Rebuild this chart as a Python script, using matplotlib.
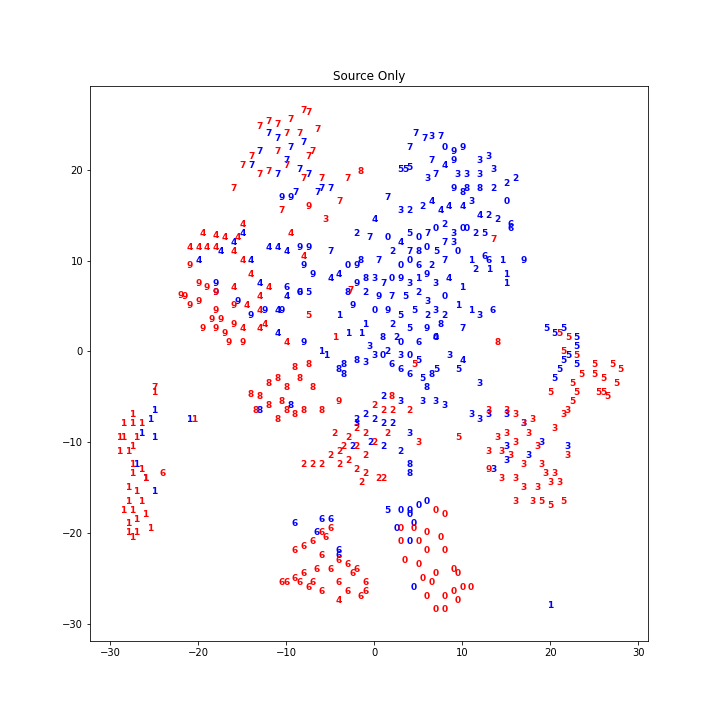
import matplotlib
matplotlib.use("Agg")
import matplotlib.pyplot as plt

red_top7 = [(-8, 26.5, 7), (-7.5, 26.3, 7), (-9.5, 25.5, 7), (-11, 25, 7), (-12, 25.3, 7), (-13, 24.8, 7),
            (-10, 24, 7), (-8.5, 24, 7), (-6.5, 24.5, 7), (-7, 22, 7), (-7.5, 21.5, 7), (-11, 22, 7),
            (-14, 21.5, 7), (-15, 20.5, 7), (-13, 19.5, 7), (-10, 20.5, 7), (-12, 19.8, 7), (-8, 19, 7),
            (-6, 19, 7), (-3, 19, 7), (-16, 18, 7), (-10.5, 15.5, 7), (-4, 16.5, 7), (-1.5, 19.8, 8),
            (-7.5, 16, 9), (-5.5, 14.5, 3)]
red_left49 = [(-19.5, 13, 4), (-18, 12.8, 4), (-17, 12.5, 4), (-15.5, 12.5, 4), (-15, 14, 4), (-21, 11.5, 4),
              (-20, 11.5, 4), (-19, 11.5, 4), (-18, 11.5, 4), (-16, 11, 4), (-15, 10, 4), (-14, 8.5, 4),
              (-12, 7, 4), (-13, 6, 4), (-16, 7, 4), (-14.5, 5, 4), (-13, 4.5, 4), (-12.5, 3, 4), (-15, 2.5, 4),
              (-13, 2.5, 4), (-10, 1, 4), (-9.5, 13, 4), (-8, 10.5, 4),
              (-21, 9.5, 9), (-20, 7.5, 9), (-19, 7, 9), (-18, 6.5, 9), (-21.5, 6, 9), (-20, 5.5, 9),
              (-22, 6.2, 9), (-21, 5, 9), (-18, 4.5, 9), (-16, 5, 9), (-17.5, 3.5, 9), (-18.5, 3.5, 9),
              (-19.5, 2.5, 9), (-16, 3, 9), (-17, 2, 9), (-16.5, 1, 9), (-18, 2.5, 9), (-15, 1, 9),
              (-7.5, 4, 5), (-4.5, 1.5, 1), (-2.7, 6.7, 7)]
red_mid8 = [(-9, -1.8, 8), (-7.5, -1.5, 8), (-11, -3, 8), (-8.5, -3, 8), (-12, -3.5, 8), (-10, -4, 8),
            (-7, -4, 8), (-14, -4.8, 8), (-13, -5, 8), (-10.5, -5.5, 8), (-12, -6, 8), (-10, -6.5, 8),
            (-13.5, -6.5, 8), (-11, -7.5, 8), (-9, -7, 8), (-8, -6.5, 8), (-6, -6.5, 8), (-4.1, -5.5, 9)]
red_mid2 = [(0, -6, 2), (1, -6.5, 2), (2, -6.5, 2), (4, -6.5, 2), (-2, -8.5, 2), (-1, -9, 2), (1.5, -9, 2),
            (-3, -9.5, 2), (-4.5, -9, 2), (-2, -10.5, 2), (0, -10, 2), (-3.5, -10.5, 2), (-4, -11, 2),
            (-5, -11.5, 2), (-1, -11.5, 2), (-3, -12, 2), (-7, -12.5, 2), (-6, -12.5, 2), (-8, -12.5, 2),
            (-4, -12.5, 2), (-2, -13, 2), (-1, -13.5, 2), (0.5, -14, 2), (-1.5, -14.5, 2), (1, -14, 2),
            (5, -10, 3), (9.5, -9.5, 5), (13, -13, 9), (2, -5, 8), (4.5, -1.5, 5), (14, 1, 8), (13.5, 12.3, 7)]
red_right3 = [(13, -6.5, 3), (15, -6.5, 3), (16, -7, 3), (18, -7.5, 3), (17, -8, 3), (15, -9, 3),
              (17.5, -9, 3), (20.5, -8.5, 3), (14, -9.5, 3), (16, -10, 3), (18.5, -10.5, 3), (13, -11, 3),
              (14.5, -11, 3), (15.5, -11.5, 3), (17, -12.5, 3), (19, -12.5, 3), (22, -11.5, 3), (14.5, -14, 3),
              (16, -14, 3), (19.5, -13.5, 3), (20.5, -13.5, 3), (21, -14.5, 3), (17, -15, 3), (18.5, -15, 3),
              (20, -14.5, 3), (16, -16.5, 3), (18, -16.5, 3), (19, -16.5, 5), (20, -17, 5), (21.5, -16.5, 5)]
red_right5 = [(21, 2, 5), (22, 1.5, 5), (21.5, 0, 5), (23, -0.5, 5), (25, -1.5, 5), (27, -1.5, 5), (28, -2, 5),
              (25, -2.5, 5), (23.5, -2.5, 5), (26, -3, 5), (22.5, -3.5, 5), (27.5, -3.5, 5), (25.5, -4.5, 5),
              (26, -4.5, 5), (23, -4.5, 5), (26.5, -5, 5), (20, -4.5, 5), (22.5, -5.5, 5), (22, -6.5, 3),
              (21.5, -7, 3)]
red_left1 = [(-25, -4, 7), (-25, -4.5, 1), (-27.5, -7, 1), (-28.5, -8, 1), (-27.5, -8, 1), (-26.5, -8, 1),
             (-27, -9.5, 1), (-28.5, -9.5, 1), (-29, -9.5, 1), (-27.5, -10.5, 1), (-29, -11, 1), (-28, -11, 1),
             (-27.5, -12.5, 1), (-26.5, -13, 1), (-26, -14, 1), (-27.5, -13.5, 1), (-28, -15, 1), (-27, -15.5, 1),
             (-28, -16.5, 1), (-26.5, -16.5, 1), (-28.5, -17.5, 1), (-27.5, -17.5, 1), (-26, -18, 1),
             (-27, -18.5, 1), (-28, -19, 1), (-25.5, -19.5, 1), (-27, -20, 1), (-28, -20, 1), (-27.5, -20.5, 1),
             (-20.5, -7.5, 1), (-24, -13.5, 6)]
red_bottom6 = [(-5, -19.5, 6), (-6, -20, 6), (-5.5, -20.5, 6), (-8, -21.5, 6), (-9, -22, 6), (-7, -21, 6),
               (-6, -22.5, 6), (-4, -23, 6), (-3, -23.5, 6), (-2, -24, 6), (-2.5, -24.5, 6), (-5, -24, 6),
               (-6.5, -24, 6), (-8, -24.5, 6), (-9, -25, 6), (-7, -25.5, 6), (-4, -25.5, 6), (-1, -25.5, 6),
               (-10.5, -25.5, 6), (-10, -25.5, 6), (-8.5, -25.5, 6), (-6, -26.5, 6), (-3, -26.5, 6),
               (-1.5, -27, 6), (-1, -26.5, 6), (-7.5, -26, 6), (-4, -27.5, 4)]
red_bottom0 = [(7, -17.5, 0), (8, -18, 0), (3, -19.5, 0), (4.5, -19.5, 0), (6, -20, 0), (7.5, -20.5, 0),
               (3, -21, 0), (5, -21, 0), (6, -22, 0), (8, -22, 0), (3.5, -23, 0), (5, -23.5, 0), (9, -24, 0),
               (9.5, -24.5, 0), (7, -24.5, 0), (5.5, -25, 0), (6.5, -25.5, 0), (10, -26, 0), (9, -26.5, 0),
               (11, -26, 0), (8, -27, 0), (9.5, -27.5, 0), (7, -28.5, 0), (8, -28.5, 0), (6, -27, 0)]

blue_left = [(-12, 24, 7), (-11, 23.5, 7), (-9.5, 22.5, 7), (-8, 23, 7), (-13, 22, 7), (-14, 20.5, 7),
             (-10, 21, 7), (-8.5, 20, 7), (-7.5, 19.5, 7), (-6, 18, 7), (-9, 17.5, 7), (-6.5, 17.5, 7),
             (-5, 18, 7), (-11, 19.5, 7), (-10.5, 17, 9), (-9.5, 17, 9),
             (-20, 10, 4), (-17.5, 11, 4), (-16, 12, 4), (-15, 13, 4), (-12, 11.5, 4), (-11, 11.5, 4),
             (-10, 11, 4), (-14, 10, 4), (-13, 7.5, 4), (-10, 6, 4), (-11, 4.5, 4), (-11, 2, 4),
             (-18, 7.5, 9), (-18, 6.5, 9), (-15.5, 5.5, 9), (-14, 4, 9), (-12.5, 4.5, 9), (-10.5, 4.5, 9),
             (-8.5, 11.5, 9), (-7.5, 11.5, 9), (-8, 9.5, 9), (-7, 8.5, 9), (-8, 1, 9), (-8.5, 6.5, 6),
             (-10, 7, 6), (-7.5, 6.5, 5), (-5, 11, 7), (-8.5, 6.5, 0), (-4, 4, 1), (-6, 0, 1),
             (-5.5, -0.5, 1), (-25, -6.5, 1), (-25.5, -7.5, 1), (-26.5, -9, 1), (-25, -9.5, 1), (-21, -7.5, 1),
             (-27, -12.5, 1), (-26, -14, 1), (-25, -15.5, 1), (-13, -6.5, 8), (-9.5, -6, 8), (-3.5, -2.5, 8),
             (-4, -2, 8)]
blue_main = [(4.7, 24, 7), (5.7, 23.5, 7), (6.5, 23.7, 3), (7.5, 23.7, 7), (4, 22.5, 7), (6.5, 21, 7),
             (8, 22.5, 0), (9, 22, 9), (10, 22.5, 9), (9, 21, 9), (8, 20.5, 4), (7, 19.5, 7),
             (12, 21, 3), (13, 21.5, 3), (13.5, 20, 3), (12, 19.5, 3), (16, 19, 2), (15, 18.5, 2),
             (13.5, 18, 2), (12, 18, 8), (15, 16.5, 0), (15.5, 14, 6), (15.5, 13.5, 6), (3, 20, 5),
             (3.5, 20, 5), (4, 20.3, 5), (6, 19, 3), (9, 18, 9), (10, 17.5, 8), (9.5, 19.5, 3), (10.5, 19.5, 3),
             (10.5, 18, 8), (1.5, 17, 7), (3, 15.5, 3), (4, 15.5, 2), (5.5, 16, 2), (6.5, 16.5, 4),
             (7.5, 15.5, 4), (8.5, 16, 4), (10, 16, 4), (11, 16.5, 3), (12, 15, 4), (13, 15, 2),
             (14, 14.5, 2), (0, 14.5, 4), (-2, 13, 2), (-0.5, 12.5, 7), (1.5, 12.5, 0), (3, 12, 4),
             (4, 13, 5), (5, 12.5, 0), (6, 13, 7), (7, 13.5, 0), (8, 14, 2), (9, 13, 3), (10, 13.5, 0),
             (10.5, 13.5, 0), (11.5, 13, 2), (12.5, 13, 5), (9, 12, 3), (8, 12, 7), (6, 11.5, 0),
             (7, 11, 5), (4, 11, 7), (5, 11, 8), (2, 11, 2), (0.5, 10, 7), (-1.5, 10, 8), (-3, 9.5, 0),
             (-2, 9.5, 9), (3, 9.5, 0), (4, 10, 0), (5, 9.5, 6), (6.5, 9.5, 2), (8, 10, 7), (9.5, 11, 0),
             (11, 10, 1), (12.5, 10.5, 6), (13, 10, 6), (14.5, 10, 1), (11.5, 9, 2), (13, 9, 1), (15, 8.5, 1),
             (17, 10, 9), (15, 7.5, 1), (-4, 8.5, 4), (-5, 8, 4), (-2, 7.5, 9), (-1, 8, 8), (0, 8, 3),
             (1, 7.5, 7), (2, 8, 0), (3, 8, 9), (4, 7.5, 3), (5, 8, 1), (6, 8.5, 9), (7, 7.5, 3), (8.5, 8, 4),
             (10, 7, 1), (-3, 6.5, 8), (-1, 6.5, 2), (0.5, 6, 9), (2, 6, 7), (3.5, 6, 5), (5, 6.5, 2),
             (6, 5.5, 3), (8, 6, 0), (9.5, 5, 1), (11, 4.5, 1), (-2.5, 5, 9), (0, 4.5, 0), (1.5, 4.5, 9),
             (3, 4, 5), (4.5, 4.5, 5), (6, 4, 2), (7, 4.5, 3), (8, 4, 2), (12, 4, 3), (13.5, 4.5, 6),
             (-1, 3, 1), (2, 3, 2), (4, 2.5, 5), (6, 2.5, 9), (7.5, 3, 8), (10, 2.5, 7), (-3, 2, 1),
             (-1.5, 2, 1), (1, 1.5, 8), (3, 1, 0), (5, 1, 6), (7, 1.5, 0), (-0.5, 0.5, 3), (1.5, 0, 2),
             (3, -0.5, 3), (4, -0.5, 0), (7, 1.5, 4), (8.5, -0.5, 3), (10, -1, 4), (2.5, 1.5, 2),
             (0, -0.5, 3), (-1, -1.2, 3)]
blue_lower = [(-2, -1, 8), (-3.5, -1.5, 8), (1, -0.5, 0), (2, -1.5, 6), (3, -2, 6), (4, -2.5, 6),
              (5.5, -3, 5), (6.5, -2.5, 8), (7, -2, 5), (5, -1, 5), (9.5, -2, 5), (12, -3.5, 3), (6, -4, 8),
              (1, -5, 2), (3, -5.5, 3), (5.5, -5.5, 3), (7, -5.5, 3), (8, -6, 3), (11, -7, 3), (12, -7.5, 3),
              (-2, -7.5, 2), (-1, -7, 2), (0, -7.5, 2), (1, -8, 2), (2, -8, 2), (-2, -8, 3), (4, -9, 3),
              (1, -10.5, 2), (-0.5, -10, 2), (-2.5, -10.5, 2), (4, -12.5, 8), (4, -13.5, 8), (3, -11, 2),
              (13, -7, 3), (15, -7, 3), (17, -8, 3), (15, -10.5, 3), (19, -10, 3), (22, -10.5, 3),
              (15, -12, 3), (13.5, -13, 3), (17.5, -11.5, 3), (19.5, 2.5, 5), (20.5, 2, 5), (21.5, 2.5, 5),
              (23, 1.5, 5), (23, 0.5, 5), (22, -0.5, 5), (21, -2, 5), (21.5, -1, 5), (23, -1.5, 5),
              (20.5, -3, 5), (3, -17.5, 0), (4, -17.5, 0), (5, -17, 0), (4.5, -19, 0), (2.5, -19.5, 0),
              (4, -18, 0), (4.5, -26, 0), (6, -16.5, 0), (4, -21, 0), (1.5, -17.5, 5), (-9, -19, 6),
              (-6, -18.5, 6), (-5, -18.5, 6), (-6.5, -20, 6), (-4, -22, 6), (-4, -22.5, 6), (20, -28, 1)]

red = red_top7 + red_left49 + red_mid8 + red_mid2 + red_right3 + red_right5 + red_left1 + red_bottom6 + red_bottom0
blue = blue_left + blue_main + blue_lower

fig, ax = plt.subplots(figsize=(10, 10), dpi=72)
for pts, col in ((blue, "blue"), (red, "red")):
    for x, y, d in pts:
        ax.text(x, y, str(d), color=col, fontsize=9, fontweight="bold", ha="center", va="center")
ax.set_xlim(-32.3, 31.1)
ax.set_ylim(-31.9, 29.2)
ax.set_title("Source Only")
fig.savefig("out.png")
